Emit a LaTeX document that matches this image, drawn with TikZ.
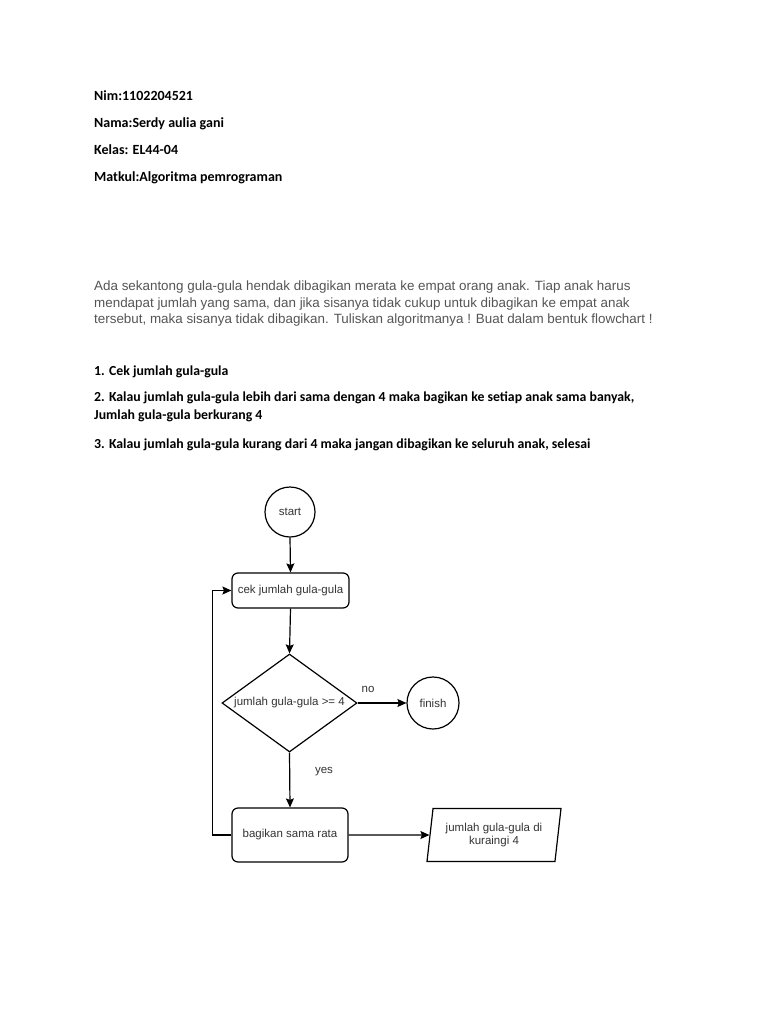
\documentclass[tikz,border=0pt]{standalone}
\usepackage{fontspec}
\setmainfont{Liberation Sans}
\newfontfamily\calfont{Carlito}
\usetikzlibrary{shapes.geometric,arrows.meta}
\definecolor{paragray}{HTML}{555555}
\definecolor{fctext}{HTML}{333333}
\begin{document}
\begin{tikzpicture}[x=1pt,y=-1pt,
  hdr/.style={font=\calfont\bfseries\fontsize{14}{16}\selectfont, inner sep=0pt, anchor=base west},
  lst/.style={font=\calfont\bfseries\fontsize{13.8}{16}\selectfont, inner sep=0pt, anchor=base west},
  para/.style={font=\fontsize{13.4}{15}\selectfont, text=paragray, inner sep=0pt, anchor=base west},
  fc/.style={font=\fontsize{11.5}{13.5}\selectfont, text=fctext},
  term/.style={fc, circle, draw, line width=1.2pt, inner sep=0pt},
  proc/.style={fc, draw, rounded corners=6pt, line width=1.2pt, inner sep=0pt},
  arr/.style={line width=1.2pt, -{Stealth[length=9pt,width=8pt,inset=1.5pt]}},
  lbl/.style={fc, inner sep=0pt}
]
\useasboundingbox[fill=white] (0,0) rectangle (768,1024);

% header
\node[hdr] (nim) at (94,101) {Nim:1102204521};
\node[hdr] (nama) at (94,128) {Nama:Serdy aulia gani};
\node[hdr] (kelas) at (94,155) {Kelas: EL44-04};
\node[hdr] (matkul) at (94,182) {Matkul:Algoritma pemrograman};

% paragraph
\node[para] (p1) at (94,290.5) {Ada sekantong gula-gula hendak dibagikan merata ke empat orang anak. Tiap anak harus};
\node[para] (p2) at (94,307) {mendapat jumlah yang sama, dan jika sisanya tidak cukup untuk dibagikan ke empat anak};
\node[para] (p3) at (94,323.5) {tersebut, maka sisanya tidak dibagikan. Tuliskan algoritmanya ! Buat dalam bentuk flowchart !};

% list
\node[lst] (l1) at (94,375) {1. Cek jumlah gula-gula};
\node[lst] (l2a) at (94,401) {2. Kalau jumlah gula-gula lebih dari sama dengan 4 maka bagikan ke setiap anak sama banyak,};
\node[lst] (l2b) at (94,419) {Jumlah gula-gula berkurang 4};
\node[lst] (l3) at (94,448) {3. Kalau jumlah gula-gula kurang dari 4 maka jangan dibagikan ke seluruh anak, selesai};

% flowchart
\node[term, minimum size=50pt] (start) at (290,512) {start};
\node[proc, minimum width=117pt, minimum height=35pt] (cek) at (290.5,590.5) {cek jumlah gula-gula};
\node[fc, diamond, draw, line width=1.2pt, inner sep=0pt, aspect=1.38, minimum width=135pt, minimum height=98pt] (dec) at (289.5,703) {jumlah gula-gula >= 4};
\node[term, minimum size=52pt] (fin) at (433,703) {finish};
\node[proc, minimum width=116pt, minimum height=54pt] (bag) at (290,835) {bagikan sama rata};
\node[fc, trapezium, draw, line width=1.2pt, trapezium left angle=76, trapezium right angle=104, trapezium stretches body, minimum width=134pt, minimum height=53pt, inner sep=0pt, align=center] (out) at (494,835) {jumlah gula-gula di\\kuraingi 4};

\draw[arr] (start.south) -- (cek.north);
\draw[arr] (cek.south) -- (dec.north);
\draw[arr] (dec.east) -- (fin.west);
\draw[arr] (dec.south) -- (bag.north);
\draw[arr] (bag.east) -- (out);
\draw[arr] (bag.west) -- ++(-19,0) |- (cek.west);

\node[lbl] (no) at (368,689) {no};
\node[lbl] (yes) at (324,772) {yes};
\end{tikzpicture}
\end{document}
